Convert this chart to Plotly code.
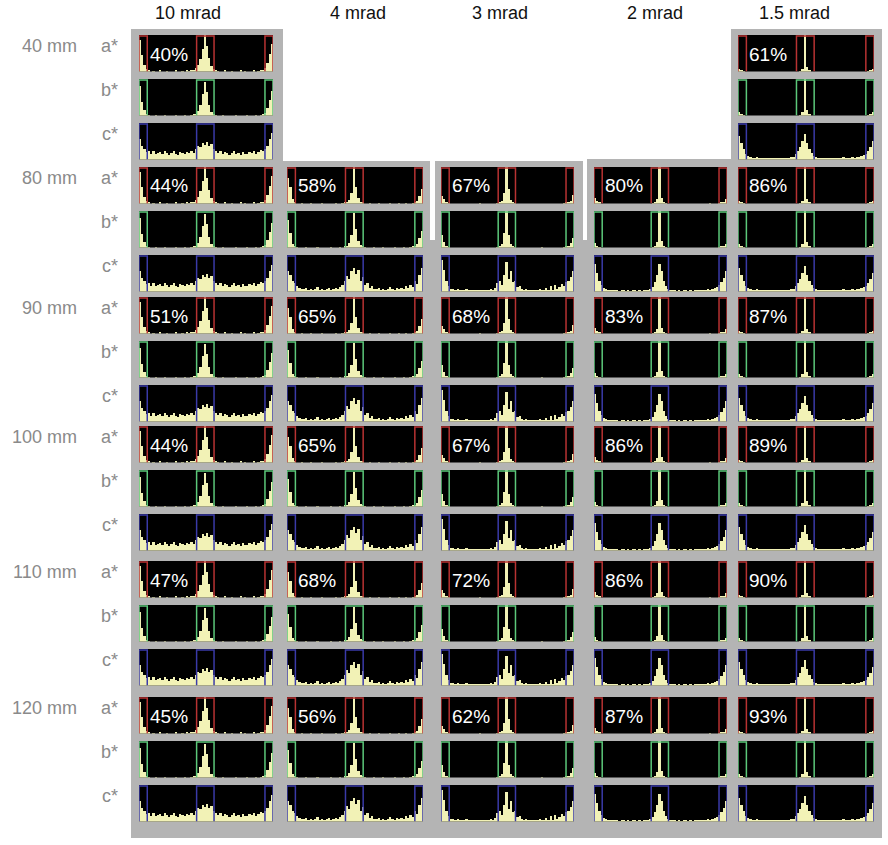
import plotly.graph_objects as go

# ---------------- data ----------------
columns = ["10 mrad", "4 mrad", "3 mrad", "2 mrad", "1.5 mrad"]
rows = ["40 mm", "80 mm", "90 mm", "100 mm", "110 mm", "120 mm"]
channels = ["a*", "b*", "c*"]

# percentage printed in the a* panel (None = no panel)
percent = [
    [40, None, None, None, 61],
    [44, 58, 67, 80, 86],
    [51, 65, 68, 83, 87],
    [44, 65, 67, 86, 89],
    [47, 68, 72, 86, 90],
    [45, 56, 62, 87, 93],
]

# histogram counts (60 bins, % of panel height), one profile per column/channel
hist_10_a = [85, 45, 18, 6, 2, 0, 1, 0, 0, 2,
             0, 0, 1, 0, 0, 0, 2, 0, 0, 1,
             0, 2, 1, 3, 5, 9, 18, 35, 62, 100,
             70, 38, 16, 7, 3, 1, 0, 0, 2, 0,
             0, 1, 0, 0, 0, 2, 0, 1, 0, 0,
             0, 2, 0, 1, 2, 4, 10, 24, 48, 75]
hist_10_b = [80, 38, 14, 4, 1, 0, 0, 1, 0, 0,
             0, 1, 0, 0, 0, 0, 1, 0, 0, 0,
             1, 0, 0, 1, 2, 5, 12, 28, 60, 92,
             65, 30, 10, 4, 1, 0, 0, 1, 0, 0,
             0, 0, 0, 1, 0, 0, 0, 0, 1, 0,
             0, 0, 1, 0, 1, 3, 8, 20, 42, 68]
hist_10_c = [55, 38, 28, 20, 24, 16, 22, 14, 18, 20,
             15, 22, 17, 13, 19, 24, 16, 12, 20, 18,
             14, 21, 17, 23, 19, 30, 38, 33, 45, 40,
             48, 36, 42, 30, 22, 18, 24, 15, 20, 17,
             13, 19, 22, 15, 18, 12, 20, 16, 14, 21,
             17, 23, 15, 20, 26, 22, 30, 38, 55, 72]

hist_4_a = [70, 45, 12, 3, 0, 0, 1, 0, 0, 0,
            1, 0, 0, 0, 0, 1, 0, 0, 0, 0,
            0, 1, 0, 0, 1, 2, 4, 10, 30, 100,
            45, 15, 5, 2, 0, 0, 1, 0, 0, 0,
            1, 0, 0, 0, 0, 1, 0, 0, 0, 1,
            0, 0, 1, 0, 0, 1, 3, 8, 20, 40]
hist_4_b = [75, 40, 10, 3, 1, 0, 0, 0, 1, 0,
            0, 0, 0, 1, 0, 0, 0, 0, 0, 1,
            0, 0, 0, 1, 0, 2, 5, 12, 35, 95,
            50, 18, 6, 2, 1, 0, 0, 0, 1, 0,
            0, 0, 1, 0, 0, 0, 0, 1, 0, 0,
            0, 1, 0, 0, 1, 2, 4, 10, 25, 45]
hist_4_c = [55, 45, 30, 22, 14, 10, 8, 6, 9, 5,
            7, 4, 6, 12, 5, 8, 4, 6, 10, 5,
            6, 9, 7, 12, 18, 30, 42, 35, 55, 65,
            48, 58, 30, 40, 18, 22, 10, 14, 8, 6,
            9, 5, 7, 4, 8, 12, 6, 5, 9, 7,
            10, 6, 14, 9, 18, 12, 28, 20, 45, 65]

hist_3_a = [20, 12, 4, 1, 0, 0, 0, 0, 0, 0,
            0, 0, 0, 0, 0, 0, 0, 1, 0, 0,
            0, 0, 0, 0, 0, 1, 3, 8, 30, 100,
            40, 10, 3, 1, 0, 0, 0, 0, 0, 0,
            0, 0, 0, 0, 0, 0, 0, 0, 0, 0,
            0, 0, 0, 0, 0, 1, 2, 3, 8, 22]
hist_3_b = [35, 15, 4, 1, 0, 0, 0, 0, 0, 0,
            0, 0, 0, 0, 0, 0, 0, 0, 0, 0,
            0, 0, 0, 0, 0, 1, 3, 10, 40, 100,
            35, 10, 3, 1, 0, 0, 0, 0, 0, 0,
            0, 0, 0, 0, 0, 1, 0, 0, 0, 0,
            0, 0, 0, 0, 0, 1, 2, 5, 12, 25]
hist_3_c = [85, 60, 30, 15, 8, 6, 4, 7, 3, 5,
            3, 6, 2, 4, 3, 5, 2, 4, 3, 2,
            4, 3, 6, 4, 10, 22, 30, 18, 45, 80,
            35, 55, 25, 30, 12, 15, 6, 4, 7, 3,
            5, 2, 4, 3, 6, 2, 4, 10, 3, 15,
            5, 18, 8, 12, 20, 15, 25, 30, 40, 55]

hist_2_a = [15, 6, 2, 0, 0, 0, 0, 0, 0, 0,
            0, 0, 0, 0, 0, 0, 0, 0, 0, 0,
            0, 0, 0, 0, 0, 0, 1, 3, 12, 100,
            15, 4, 1, 0, 0, 0, 0, 0, 0, 0,
            0, 0, 0, 0, 0, 0, 0, 0, 0, 0,
            0, 0, 1, 0, 0, 0, 1, 2, 5, 12]
hist_2_b = [12, 4, 1, 0, 0, 0, 0, 0, 0, 0,
            0, 0, 0, 0, 0, 0, 0, 0, 0, 0,
            0, 0, 0, 0, 0, 0, 1, 4, 15, 100,
            18, 5, 1, 0, 0, 0, 0, 0, 0, 0,
            0, 0, 0, 0, 0, 0, 0, 0, 0, 0,
            0, 0, 0, 0, 0, 0, 1, 2, 4, 10]
hist_2_c = [75, 50, 30, 18, 10, 6, 4, 3, 2, 3,
            2, 1, 2, 3, 1, 2, 1, 2, 3, 1,
            2, 1, 3, 2, 4, 6, 12, 25, 45, 75,
            55, 30, 15, 8, 4, 3, 2, 1, 2, 1,
            2, 3, 1, 2, 1, 3, 2, 4, 3, 5,
            4, 6, 5, 8, 10, 12, 18, 25, 38, 55]

hist_15_a = [8, 3, 1, 0, 0, 0, 0, 0, 0, 0,
             0, 0, 0, 0, 0, 0, 0, 0, 0, 0,
             0, 0, 0, 0, 0, 0, 0, 1, 8, 100,
             12, 2, 0, 0, 0, 0, 0, 0, 0, 0,
             0, 0, 0, 0, 0, 0, 0, 0, 0, 0,
             0, 0, 0, 0, 0, 0, 0, 1, 3, 8]
hist_15_b = [10, 3, 1, 0, 0, 0, 0, 0, 0, 0,
             0, 0, 0, 0, 0, 0, 0, 0, 0, 0,
             0, 0, 0, 0, 0, 0, 0, 1, 10, 100,
             14, 3, 0, 0, 0, 0, 0, 0, 0, 0,
             0, 0, 0, 0, 0, 0, 0, 0, 0, 0,
             0, 0, 0, 0, 0, 0, 0, 1, 4, 10]
hist_15_c = [65, 45, 28, 15, 10, 6, 5, 4, 6, 3,
             4, 3, 5, 2, 4, 3, 2, 5, 3, 4,
             3, 5, 4, 6, 8, 14, 22, 35, 50, 70,
             45, 30, 18, 10, 6, 4, 5, 3, 4, 2,
             3, 4, 2, 5, 3, 4, 6, 3, 5, 4,
             6, 5, 8, 6, 10, 12, 15, 22, 35, 50]

histograms = [
    [hist_10_a, hist_10_b, hist_10_c],
    [hist_4_a, hist_4_b, hist_4_c],
    [hist_3_a, hist_3_b, hist_3_c],
    [hist_2_a, hist_2_b, hist_2_c],
    [hist_15_a, hist_15_b, hist_15_c],
]
for col in histograms:
    for h in col:
        assert len(h) == 60, len(h)

# gate windows (in bin units) and their height
gates = [(-0.5, 3.2), (25.3, 33.1), (55.9, 59.5)]
gate_top = 97

# ---------------- layout geometry (page pixels) ----------------
W, H = 888, 845
col_x = [(139, 273), (287, 423), (441, 574), (594, 727), (738, 874)]
row_top = [35, 167, 297, 426, 561, 697]
sub_off = [0, 44, 88]
panel_h = 36.5
header_x = [188, 358, 500, 655, 794]

gate_colors = ["#b83232", "#5cc87a", "#3a3aa8"]
bar_color = "#f2f2b6"
gray = "#b4b4b4"


def px(x):
    return x / W


def py(y):
    return 1 - y / H


fig = go.Figure()
shapes = []
annotations = []

# gray backgrounds
for (x0, y0, x1, y1, c) in [
    (131, 29, 283, 838, gray),
    (731, 29, 882, 838, gray),
    (283, 161, 731, 838, gray),
    (587, 159, 731, 240, gray),
    (430, 161, 435, 240, "white"),
    (583, 159, 587, 240, "white"),
]:
    shapes.append(dict(type="rect", xref="paper", yref="paper",
                       x0=px(x0), x1=px(x1), y0=py(y1), y1=py(y0),
                       fillcolor=c, line=dict(width=0), layer="below"))

k = 0
layout_axes = {}
bins = list(range(60))
for r, rname in enumerate(rows):
    for c, cname in enumerate(columns):
        if percent[r][c] is None:
            continue
        xl, xr = col_x[c]
        for ch in range(3):
            k += 1
            top = row_top[r] + sub_off[ch]
            bot = top + panel_h
            sfx = "" if k == 1 else str(k)
            shapes.append(dict(type="rect", xref="paper", yref="paper",
                               x0=px(xl), x1=px(xr), y0=py(bot), y1=py(top),
                               fillcolor="black", line=dict(width=0), layer="below"))
            layout_axes["xaxis" + sfx] = dict(domain=[px(xl), px(xr)], range=[-0.5, 59.5],
                                              anchor="y" + sfx, visible=False, fixedrange=True)
            layout_axes["yaxis" + sfx] = dict(domain=[py(bot), py(top)], range=[0, 100],
                                              anchor="x" + sfx, visible=False, fixedrange=True)
            fig.add_trace(go.Bar(x=bins, y=histograms[c][ch], width=1.0,
                                 marker=dict(color=bar_color, line=dict(width=0)),
                                 xaxis="x" + sfx, yaxis="y" + sfx,
                                 hoverinfo="skip", showlegend=False))
            gx, gy = [], []
            for g0, g1 in gates:
                gx += [g0, g0, g1, g1, None]
                gy += [0, gate_top, gate_top, 0, None]
            fig.add_trace(go.Scatter(x=gx, y=gy, mode="lines",
                                     line=dict(color=gate_colors[ch], width=1.5),
                                     xaxis="x" + sfx, yaxis="y" + sfx,
                                     hoverinfo="skip", showlegend=False))
        annotations.append(dict(text=f"{percent[r][c]}%", xref="paper", yref="paper",
                                x=px(xl + 30), y=py(row_top[r] + 19), showarrow=False,
                                xanchor="center", yanchor="middle",
                                font=dict(family="Liberation Sans Narrow, Arial Narrow, Liberation Sans, Arial",
                                          size=19, color="white")))

# row labels
for r, rname in enumerate(rows):
    annotations.append(dict(text=rname, xref="paper", yref="paper",
                            x=px(79), y=py(row_top[r] + 11), showarrow=False,
                            xanchor="right", yanchor="middle",
                            font=dict(family="Liberation Sans, Arial", size=18, color="#8a8a8a")))
    for ch, chn in enumerate(channels):
        annotations.append(dict(text=chn, xref="paper", yref="paper",
                                x=px(120), y=py(row_top[r] + 11 + sub_off[ch]), showarrow=False,
                                xanchor="right", yanchor="middle",
                                font=dict(family="Liberation Sans, Arial", size=18, color="#8a8a8a")))

# column headers
for c, cname in enumerate(columns):
    annotations.append(dict(text=cname, xref="paper", yref="paper",
                            x=px(header_x[c]), y=py(13), showarrow=False,
                            xanchor="center", yanchor="middle",
                            font=dict(family="Liberation Sans, Arial", size=18, color="#111111")))

fig.update_layout(width=W, height=H, margin=dict(l=0, r=0, t=0, b=0),
                  paper_bgcolor="white", plot_bgcolor="rgba(0,0,0,0)",
                  bargap=0, shapes=shapes, annotations=annotations,
                  showlegend=False, **layout_axes)

# remove the page's default body margin so the figure sits at the window's corner
fig.write_html("out.html", config={"displayModeBar": False},
               post_script="document.body.style.margin='0px';")
